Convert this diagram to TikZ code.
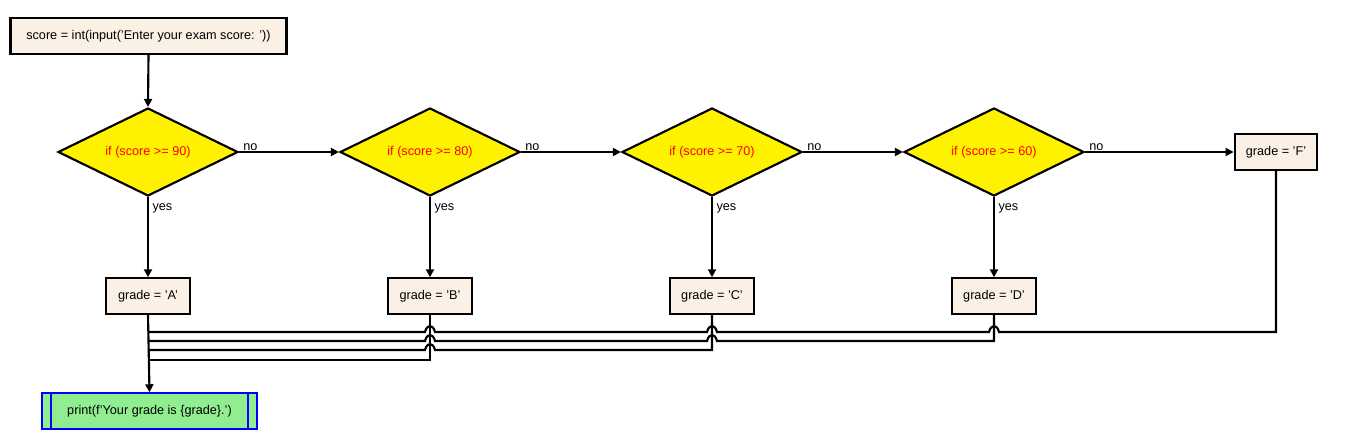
\documentclass[tikz,border=0pt]{standalone}
\usepackage{fontspec}
\setmainfont{Liberation Sans}
\usetikzlibrary{shapes.geometric,arrows.meta}
\definecolor{boxfill}{HTML}{FAF0E6}
\definecolor{pgreen}{HTML}{90EE90}
\begin{document}
\begin{tikzpicture}[x=0.75pt,y=-0.75pt,font=\fontsize{9.5}{11}\selectfont,
  proc/.style={draw,line width=1.6pt,fill=boxfill,inner sep=0pt,minimum height=26.5pt},
  dec/.style={diamond,draw,line width=1.6pt,fill=yellow,text=red,minimum width=135pt,minimum height=66pt,inner sep=0pt,aspect=2.05},
  ln/.style={line width=1.6pt},
  arr/.style={ln,-{Triangle[length=6pt,width=6pt]}},
  lbl/.style={inner sep=1pt}]
\useasboundingbox (0,0) rectangle (1358,440);
\node[proc,minimum width=207pt] (s) at (148.5,36) {score = int(input('Enter your exam score: '))};
\foreach \i/\x/\v in {1/148/90,2/430/80,3/712/70,4/994/60}{
  \node[dec] (d\i) at (\x,152) {if (score >= \v)};
}
\node[proc,minimum width=62pt] (gF) at (1276,152) {grade = 'F'};
\foreach \i/\x/\g in {1/148/A,2/430/B,3/712/C,4/994/D}{
  \node[proc,minimum width=63pt] (g\i) at (\x,296) {grade = '\g'};
  \draw[arr] (d\i.south) -- (g\i.north);
  \node[lbl,anchor=west] at (\x+3,208) {yes};
}
\foreach \i/\j in {1/2,2/3,3/4}{
  \draw[arr] (d\i.east) -- (d\j.west);
  \node[lbl,anchor=south west] at ([xshift=2pt]d\i.east) {no};
}
\draw[arr] (d4.east) -- (gF.west);
\node[lbl,anchor=south west] at ([xshift=2pt]d4.east) {no};
\draw[arr] (s.south) -- (d1.north);
\node[draw=blue,line width=1.6pt,fill=pgreen,minimum width=161pt,minimum height=26.5pt,inner sep=0pt] (p) at (149.5,411) {print(f'Your grade is \{grade\}.')};
\draw[blue,line width=1.6pt] ([xshift=7.5pt]p.north west) -- ([xshift=7.5pt]p.south west);
\draw[blue,line width=1.6pt] ([xshift=-7.5pt]p.north east) -- ([xshift=-7.5pt]p.south east);
\draw[arr] (g1.south) -- (p.north);
% merge lines with hops
\newcommand\hop[2]{-- (#1+5,#2) .. controls (#1+3,#2-8) and (#1-3,#2-8) .. (#1-5,#2)}
\coordinate (m1) at (148,332);
\draw[ln] (gF.south) |- (1276,332) \hop{994}{332} \hop{712}{332} \hop{430}{332} -- (m1);
\draw[ln] (g4.south) -- (994,341) \hop{712}{341} \hop{430}{341} -- (148,341);
\draw[ln] (g3.south) -- (712,350) \hop{430}{350} -- (148,350);
\draw[ln] (g2.south) -- (430,360) -- (148,360);
\end{tikzpicture}
\end{document}
